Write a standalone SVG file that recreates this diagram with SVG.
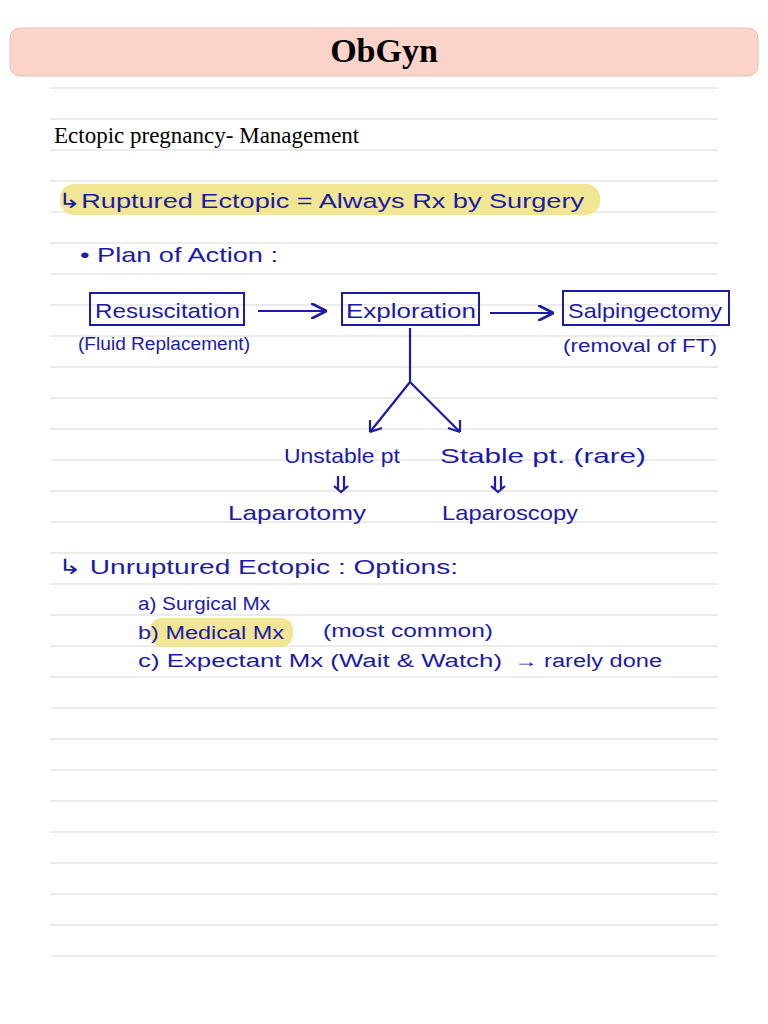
<svg xmlns="http://www.w3.org/2000/svg" width="768" height="1024" viewBox="0 0 768 1024">
<defs>
<style>
.rule{stroke:#d8d8d8;stroke-width:1}
.h{font-family:"Liberation Sans",sans-serif;fill:#1b1baa;font-size:21px}
.s{font-family:"Liberation Sans",sans-serif;fill:#1b1baa;font-size:18px}
.ln{stroke:#1b1baa;stroke-width:2.2;fill:none}
.box{stroke:#1b1baa;stroke-width:2;fill:none}
</style>
<marker id="a" viewBox="0 0 10 10" refX="9" refY="5" markerWidth="7" markerHeight="7" orient="auto"><path d="M0,0 L10,5 L0,10" fill="none" stroke="#1b1baa" stroke-width="1.8"/></marker>
</defs>
<rect width="768" height="1024" fill="#fff"/>
<g id="rules">
<line class="rule" x1="50" x2="718" y1="88" y2="88"/><line class="rule" x1="50" x2="718" y1="119" y2="119"/><line class="rule" x1="50" x2="718" y1="150" y2="150"/><line class="rule" x1="50" x2="718" y1="181" y2="181"/><line class="rule" x1="50" x2="718" y1="212" y2="212"/><line class="rule" x1="50" x2="718" y1="243" y2="243"/><line class="rule" x1="50" x2="718" y1="274" y2="274"/><line class="rule" x1="50" x2="718" y1="305" y2="305"/><line class="rule" x1="50" x2="718" y1="336" y2="336"/><line class="rule" x1="50" x2="718" y1="367" y2="367"/><line class="rule" x1="50" x2="718" y1="398" y2="398"/><line class="rule" x1="50" x2="718" y1="429" y2="429"/><line class="rule" x1="50" x2="718" y1="460" y2="460"/><line class="rule" x1="50" x2="718" y1="491" y2="491"/><line class="rule" x1="50" x2="718" y1="522" y2="522"/><line class="rule" x1="50" x2="718" y1="553" y2="553"/><line class="rule" x1="50" x2="718" y1="584" y2="584"/><line class="rule" x1="50" x2="718" y1="615" y2="615"/><line class="rule" x1="50" x2="718" y1="646" y2="646"/><line class="rule" x1="50" x2="718" y1="677" y2="677"/><line class="rule" x1="50" x2="718" y1="708" y2="708"/><line class="rule" x1="50" x2="718" y1="739" y2="739"/><line class="rule" x1="50" x2="718" y1="770" y2="770"/><line class="rule" x1="50" x2="718" y1="801" y2="801"/><line class="rule" x1="50" x2="718" y1="832" y2="832"/><line class="rule" x1="50" x2="718" y1="863" y2="863"/><line class="rule" x1="50" x2="718" y1="894" y2="894"/><line class="rule" x1="50" x2="718" y1="925" y2="925"/><line class="rule" x1="50" x2="718" y1="956" y2="956"/>
</g>
<g id="header">
<rect x="10" y="28" width="748" height="48" rx="10" fill="#fcd3c8" stroke="#e9bdb2"/>
<text x="384" y="62" text-anchor="middle" font-family="Liberation Serif,serif" font-weight="bold" font-size="34">ObGyn</text>
</g>
<text x="54" y="143" font-family="Liberation Serif,serif" font-size="23">Ectopic pregnancy- Management</text>
<rect x="60" y="184" width="540" height="31" rx="14" fill="#f1e694"/>
<rect x="150" y="618" width="143" height="29" rx="12" fill="#f1e694"/>
<g id="texts">
<text class="h" x="58" y="208" textLength="526" lengthAdjust="spacingAndGlyphs">↳Ruptured Ectopic = Always Rx by Surgery</text>
<text class="h" x="80" y="262" textLength="198" lengthAdjust="spacingAndGlyphs">• Plan of Action :</text>
<text class="h" x="58" y="574" textLength="400" lengthAdjust="spacingAndGlyphs">↳ Unruptured Ectopic : Options:</text>
<text class="s" x="138" y="610" textLength="132" lengthAdjust="spacingAndGlyphs">a) Surgical Mx</text>
<text class="s" x="138" y="639" textLength="146" lengthAdjust="spacingAndGlyphs">b) Medical Mx</text>
<text class="s" x="323" y="637" textLength="170" lengthAdjust="spacingAndGlyphs">(most common)</text>
<text class="s" x="138" y="667" textLength="364" lengthAdjust="spacingAndGlyphs">c) Expectant Mx (Wait &amp; Watch)</text>
<text class="s" x="514" y="667" textLength="148" lengthAdjust="spacingAndGlyphs">→ rarely done</text>
</g>
<g id="n1"><rect class="box" x="90" y="293" width="154" height="32"/><text class="h" x="95" y="318" textLength="145" lengthAdjust="spacingAndGlyphs">Resuscitation</text><text class="s" x="164" y="350" text-anchor="middle" textLength="172" lengthAdjust="spacingAndGlyphs">(Fluid Replacement)</text></g>
<g id="n2"><rect class="box" x="342" y="293" width="137" height="32"/><text class="h" x="346" y="318" textLength="130" lengthAdjust="spacingAndGlyphs">Exploration</text></g>
<g id="n3"><rect class="box" x="563" y="291" width="166" height="34"/><text class="h" x="568" y="318" textLength="154" lengthAdjust="spacingAndGlyphs">Salpingectomy</text><text class="s" x="640" y="352" text-anchor="middle" textLength="154" lengthAdjust="spacingAndGlyphs">(removal of FT)</text></g>
<g id="n4"><text class="h" x="284" y="463" textLength="116" lengthAdjust="spacingAndGlyphs">Unstable pt</text><text class="h" x="228" y="520" textLength="138" lengthAdjust="spacingAndGlyphs">Laparotomy</text></g>
<g id="n5"><text class="h" x="440" y="463" textLength="206" lengthAdjust="spacingAndGlyphs">Stable pt. (rare)</text><text class="h" x="442" y="520" textLength="136" lengthAdjust="spacingAndGlyphs">Laparoscopy</text></g>
<g id="connectors">
<line class="ln" x1="258" y1="311" x2="325" y2="311" marker-end="url(#a)"/>
<line class="ln" x1="490" y1="313" x2="552" y2="313" marker-end="url(#a)"/>
<path class="ln" d="M410,328 V382 L370,432 M410,382 L460,432"/>
<path class="ln" d="M370,432 l0,-12 M370,432 l12,-4"/>
<path class="ln" d="M460,432 l0,-12 M460,432 l-12,-4"/>
<path class="ln" d="M338,476 v14 M344,476 v14 M334,486 l7,6 l7,-6" stroke-width="1.5"/>
<path class="ln" d="M495,476 v14 M501,476 v14 M491,486 l7,6 l7,-6" stroke-width="1.5"/>
</g>
</svg>
